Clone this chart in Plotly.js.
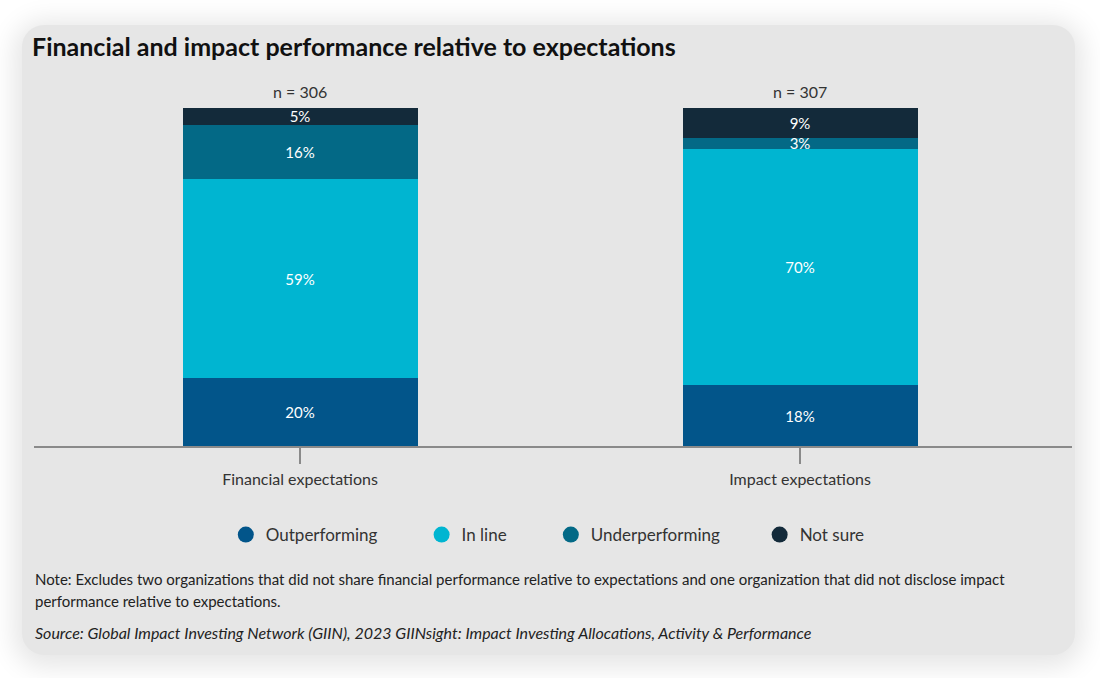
<!DOCTYPE html>
<html>
<head>
<meta charset="utf-8">
<script src="https://cdn.plot.ly/plotly-3.0.1.min.js"></script>
<style>
  html, body { margin: 0; padding: 0; background: #ffffff; }
  #wrap { position: relative; width: 1100px; height: 678px; overflow: hidden; background: #ffffff; }
  #card { position: absolute; left: 22px; top: 25px; width: 1053px; height: 630px;
          background: #e6e6e6; border-radius: 22px; box-shadow: 0 4px 26px 8px rgba(0,0,0,0.10); }
  #chart { position: absolute; left: 0; top: 0; width: 1100px; height: 678px; }
</style>
</head>
<body>
<div id="wrap">
  <div id="card"></div>
  <div id="chart"></div>
</div>
<script>
const categories = ["Financial expectations", "Impact expectations"];
const sampleSizes = ["n = 306", "n = 307"];
const seriesNames = ["Outperforming", "In line", "Underperforming", "Not sure"];
const outperforming = [20, 18];
const inLine = [59, 70];
const underperforming = [16, 3];
const notSure = [5, 9];
const seriesValues = [outperforming, inLine, underperforming, notSure];
const seriesColors = ["#02558a", "#00b5d1", "#036986", "#132a3a"];

const FONT = "Lato, 'Open Sans', sans-serif";
const legendPad = [9, 9, 8, 0];

const traces = [];
seriesValues.forEach((vals, i) => {
  traces.push({
    type: "bar",
    x: categories,
    y: vals,
    name: seriesNames[i],
    marker: { color: seriesColors[i], line: { width: 0 } },
    width: 0.47,
    text: vals.map(v => v + "%"),
    textposition: "inside",
    insidetextanchor: "middle",
    constraintext: "none",
    textfont: { color: "#ffffff", size: 15, family: FONT },
    showlegend: false,
    hoverinfo: "skip"
  });
});
// legend entries with round markers
seriesNames.forEach((nm, i) => {
  traces.push({
    type: "scatter",
    mode: "markers",
    x: [null],
    y: [null],
    name: nm + "&nbsp;".repeat(legendPad[i]),
    marker: { color: seriesColors[i], size: 17, symbol: "circle" },
    showlegend: true,
    hoverinfo: "skip"
  });
});

const annotations = categories.map((c, i) => ({
  xref: "x", yref: "y", x: c, y: 100,
  text: sampleSizes[i], showarrow: false,
  yanchor: "bottom", yshift: 5,
  font: { family: FONT, size: 16, color: "#333333" }
}));

annotations.push(
  { xref: "paper", yref: "paper", x: 0, xshift: -1, y: (446 - 579) / 338, xanchor: "left", yanchor: "middle",
    showarrow: false, align: "left",
    text: "Note: Excludes two organizations that did not share financial performance relative to expectations and one organization that did not disclose impact",
    font: { family: FONT, size: 15, color: "#222222" } },
  { xref: "paper", yref: "paper", x: 0, xshift: -1, y: (446 - 601) / 338, xanchor: "left", yanchor: "middle",
    showarrow: false, align: "left",
    text: "performance relative to expectations.",
    font: { family: FONT, size: 15, color: "#222222" } },
  { xref: "paper", yref: "paper", x: 0, xshift: -1, y: (446 - 632) / 338, xanchor: "left", yanchor: "middle",
    showarrow: false, align: "left",
    text: "<i>Source: Global Impact Investing Network (GIIN), 2023 GIINsight: Impact Investing Allocations, Activity &amp; Performance</i>",
    font: { family: FONT, size: 16, color: "#222222" } }
);

const layout = {
  width: 1100,
  height: 678,
  paper_bgcolor: "rgba(0,0,0,0)",
  plot_bgcolor: "rgba(0,0,0,0)",
  margin: { l: 34, r: 28, t: 108, b: 232, pad: 0 },
  barmode: "stack",
  title: {
    text: "<b>Financial and impact performance relative to expectations</b>",
    x: 32 / 1100, xanchor: "left", xref: "container",
    y: 1 - 47 / 678, yanchor: "middle", yref: "container",
    font: { family: FONT, size: 25, color: "#111111" }
  },
  xaxis: {
    type: "category",
    range: [-0.532, 1.544],
    showgrid: false,
    zeroline: false,
    showline: true,
    linecolor: "#8a8a8a",
    linewidth: 1.5,
    ticks: "outside",
    ticklen: 16,
    tickwidth: 1.2,
    tickcolor: "#8a8a8a",
    ticklabelstandoff: 2,
    tickfont: { family: FONT, size: 16, color: "#333333" },
    fixedrange: true
  },
  yaxis: {
    range: [0, 100],
    visible: false,
    showgrid: false,
    zeroline: false,
    fixedrange: true
  },
  legend: {
    orientation: "h",
    x: 0.495, xanchor: "center",
    y: (446 - 535) / 338, yanchor: "middle",
    font: { family: FONT, size: 17, color: "#333333" },
    itemsizing: "trace",
    bgcolor: "rgba(0,0,0,0)",
    traceorder: "normal"
  },
  annotations: annotations,
  showlegend: true,
  hovermode: false
};

Plotly.newPlot("chart", traces, layout, { displayModeBar: false, staticPlot: true });
</script>
</body>
</html>
